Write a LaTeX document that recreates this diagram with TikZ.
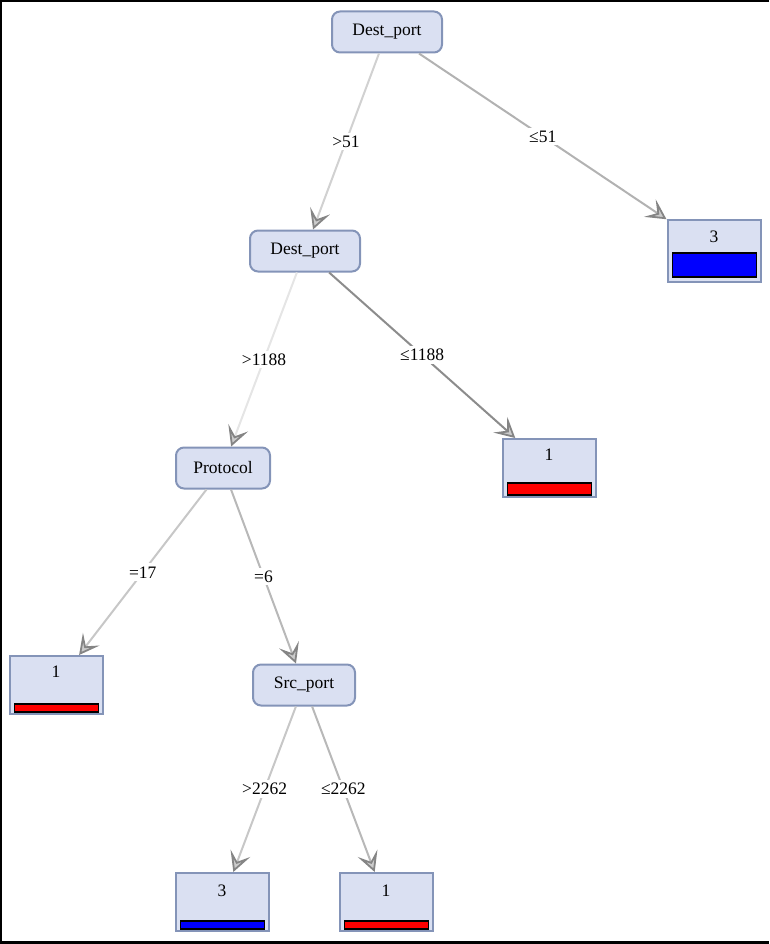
\documentclass[tikz,border=0pt]{standalone}
\usepackage{fontspec}
\setmainfont{Liberation Serif}
\usepackage{tikz}
\usetikzlibrary{arrows.meta}

\definecolor{nodefill}{RGB}{218,224,242}
\definecolor{nodeedge}{RGB}{132,148,184}
\definecolor{classone}{RGB}{255,0,0}
\definecolor{classthree}{RGB}{0,0,255}

\tikzset{
  every node/.style={font=\fontsize{17.5}{20}\selectfont},
  split/.style={draw=nodeedge, fill=nodefill, rounded corners=8pt, line width=2pt, minimum height=41pt},
  leaf/.style={draw=nodeedge, fill=nodefill, line width=2pt, minimum width=93pt, minimum height=58pt},
  leaftext/.style={inner sep=0pt},
  branch/.style={line width=2pt, -{Stealth[length=20pt, width=21pt, inset=9pt, color=black!48, fill=black!20, line width=1.8pt]}},
  cond/.style={fill=white, inner sep=3pt},
  classbox/.style={draw=black, line width=1.5pt}
}
\newcommand{\classbar}[4]{\draw[classbox, fill=#2] ([shift={(6pt,#3)}]#1.south west) rectangle ([shift={(-5pt,#4)}]#1.south east);}

\begin{document}
\begin{tikzpicture}[x=1pt,y=-1pt]
\useasboundingbox (0,0) rectangle (769,944);
\draw[line width=2.5pt] (769,1.2) -- (1.2,1.2) -- (1.2,942.5) -- (769,942.5);

\node[split, minimum width=110pt] (root) at (387,32){Dest\_port};
\node[split, minimum width=110pt] (dest2) at (305,251){Dest\_port};
\node[split, minimum width=94pt] (proto) at (223,468){Protocol};
\node[split, minimum width=102pt] (src) at (304,685){Src\_port};

\node[leaf, minimum height=62pt] (leafA) at (714,251){};
\node[leaf] (leafB) at (549,468){};
\node[leaf] (leafC) at (56,685){};
\node[leaf] (leafD) at (222,902){};
\node[leaf] (leafE) at (386,902){};

\node[leaftext] (leafAt) at ([yshift=-18pt]leafA.north){3};
\node[leaftext] (leafBt) at ([yshift=-17pt]leafB.north){1};
\node[leaftext] (leafCt) at ([yshift=-17pt]leafC.north){1};
\node[leaftext] (leafDt) at ([yshift=-19pt]leafD.north){3};
\node[leaftext] (leafEt) at ([yshift=-19pt]leafE.north){1};

\classbar{leafA}{classthree}{6pt}{30pt}
\classbar{leafB}{classone}{3pt}{15pt}
\classbar{leafC}{classone}{3pt}{11pt}
\classbar{leafD}{classthree}{3pt}{11pt}
\classbar{leafE}{classone}{3pt}{11pt}

\foreach \from/\to/\lbl/\shade in {root/dest2/{>51}/18, root/leafA/{≤51}/30,
  dest2/proto/{>1188}/10, dest2/leafB/{≤1188}/45, proto/leafC/{=17}/22,
  proto/src/{=6}/28, src/leafD/{>2262}/22, src/leafE/{≤2262}/28}
  \draw[branch, draw=black!\shade] (\from) -- node[cond]{\lbl} (\to);
\end{tikzpicture}
\end{document}
